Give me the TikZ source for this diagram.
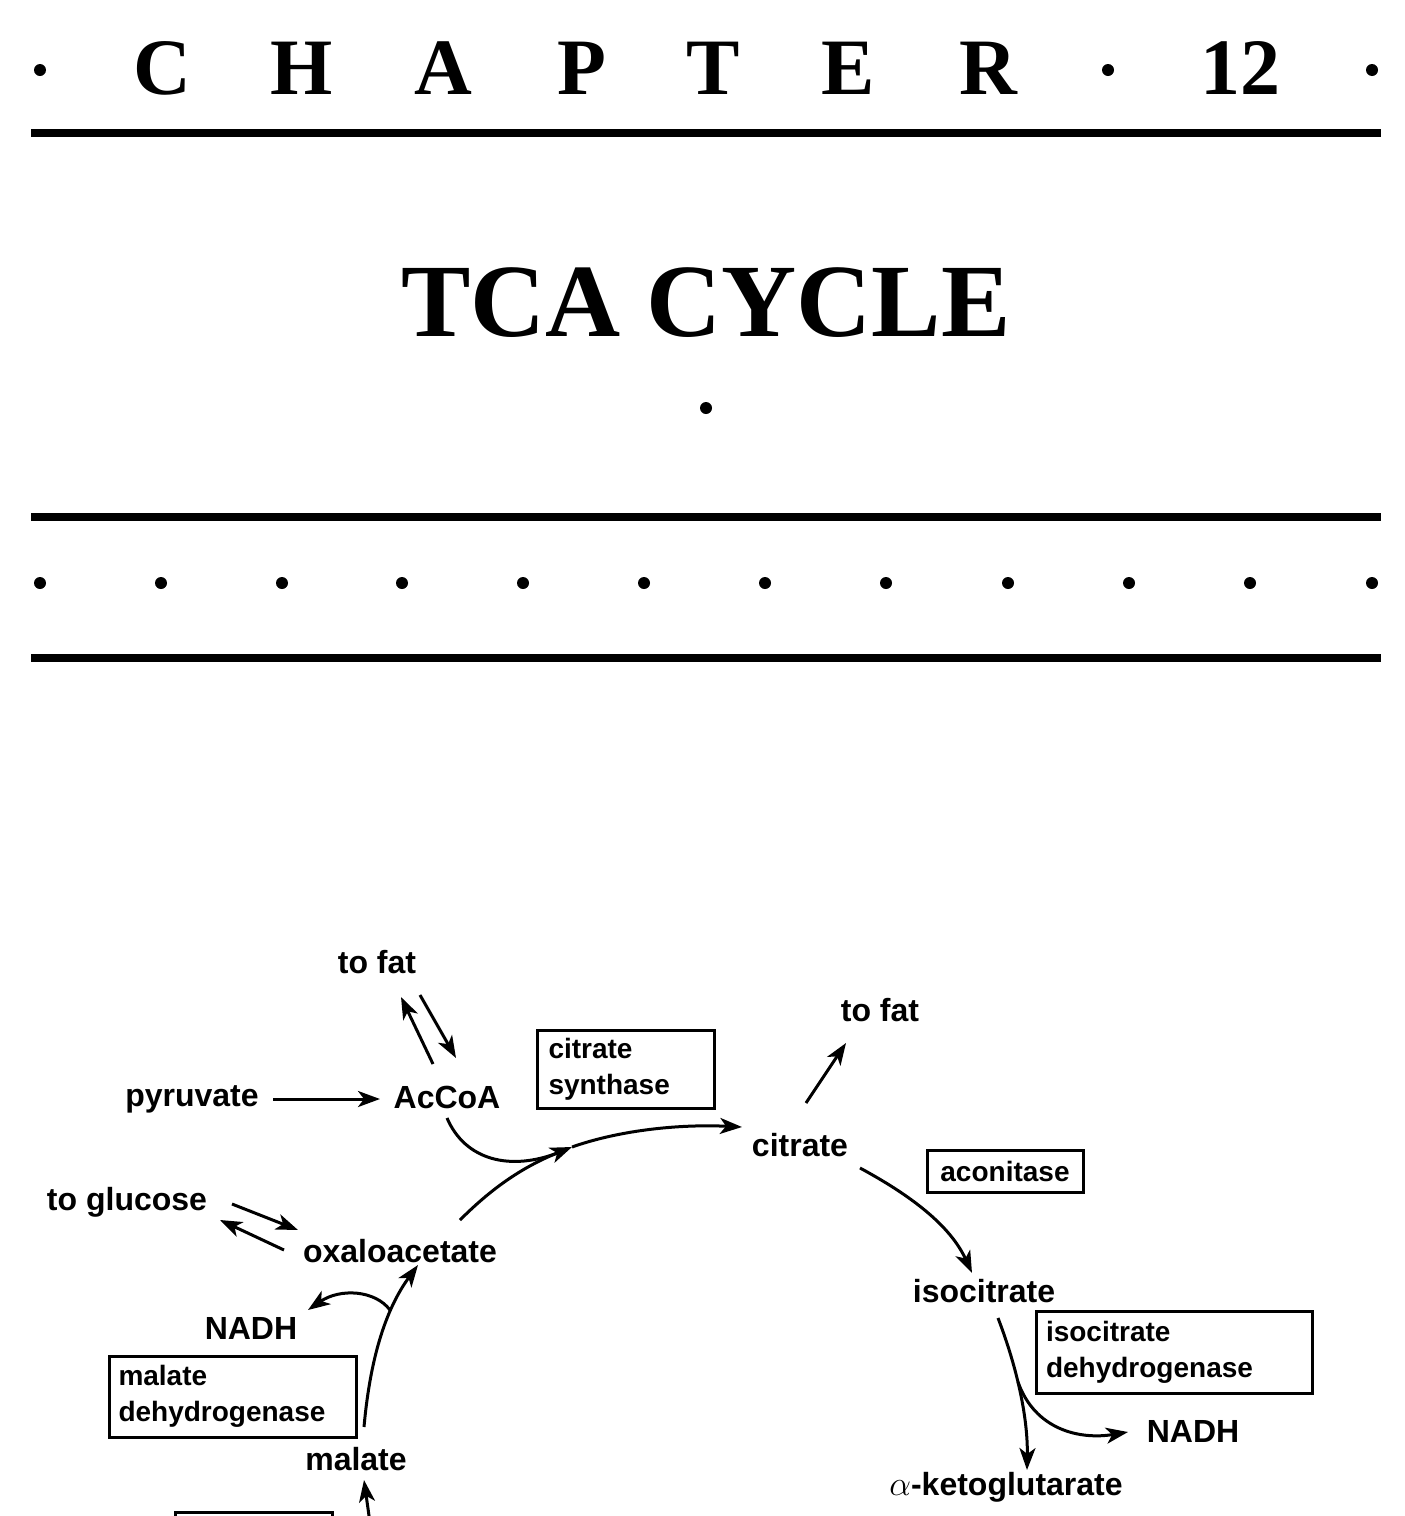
\documentclass[tikz,border=0pt]{standalone}
\usepackage{fontspec}
\setmainfont{Liberation Serif}
\newfontfamily\dsans{Liberation Sans}
\usetikzlibrary{arrows.meta}
\begin{document}
\begin{tikzpicture}[x=0.5pt,y=-0.5pt,
  hd/.style={font=\fontsize{40}{40}\selectfont\bfseries},
  lab/.style={font=\dsans\bfseries\fontsize{16}{19}\selectfont, inner sep=0pt},
  enz/.style={draw, line width=1.5pt, align=left, font=\dsans\bfseries\fontsize{14}{18}\selectfont, inner sep=0pt},
  rule/.style={line width=4pt},
  dotc/.style={fill, circle, inner sep=0pt, minimum size=6pt},
  arr/.style={line width=1.5pt, -{Stealth[length=11pt,width=8pt,inset=3pt]}},
  ln/.style={line width=1.5pt}]
\useasboundingbox (0,0) rectangle (1404,1516);
% header
\foreach \x/\t [count=\i] in {162/C,302/H,443/A,582/P,713/T,848/E,988/R,1240/12}
  \node[hd] (h\i) at (\x,68) {\t};
\foreach \x [count=\i] in {40,1108,1372} \node[dotc] (hd\i) at (\x,70) {};
\draw[rule] (31,133) -- (1381,133);
\node[font=\fontsize{52}{52}\selectfont\bfseries] (title) at (706,303) {TCA CYCLE};
\node[dotc] (tdot) at (706,408) {};
\draw[rule] (31,517) -- (1381,517);
\foreach \x [count=\i] in {40,161,282,402,523,644,765,886,1008,1129,1250,1372}
  \node[dotc] (rd\i) at (\x,583) {};
\draw[rule] (31,658) -- (1381,658);
% diagram labels
\node[lab] (tofat1) at (377,962) {to fat};
\node[lab] (pyr) at (192,1099) {pyruvate};
\node[lab] (accoa) at (447,1097) {AcCoA};
\node[enz, minimum width=177pt*0.5, minimum height=78pt*0.5, text width=77pt] (cs) at (625.5,1069) {citrate\\synthase};
\node[lab] (cit) at (800,1145) {citrate};
\node[lab] (tofat2) at (880,1010) {to fat};
\node[enz, minimum width=156pt*0.5, minimum height=42pt*0.5] (acon) at (1005,1171) {aconitase};
\node[lab] (toglu) at (127,1202) {to glucose};
\node[lab] (oaa) at (400,1251) {oxaloacetate};
\node[lab] (iso) at (984,1291) {isocitrate};
\node[enz, minimum width=276pt*0.5, minimum height=82pt*0.5, text width=128pt] (idh) at (1174,1352) {isocitrate\\dehydrogenase};
\node[lab] (nadh2) at (1193,1431) {NADH};
\node[lab] (akg) at (1006,1487) {$\alpha$-ketoglutarate};
\node[lab] (nadh1) at (251,1328) {NADH};
\node[enz, minimum width=247pt*0.5, minimum height=81pt*0.5, text width=114pt] (mdh) at (232.5,1396.5) {malate\\dehydrogenase};
\node[lab] (mal) at (356,1459) {malate};
\node[draw, line width=1.5pt, minimum width=157pt*0.5, minimum height=60pt*0.5, inner sep=0pt] (fum) at (253.5,1542) {};
% coordinates
\coordinate (a1) at (273,1099); \coordinate (a2) at (380,1099);
\coordinate (f1) at (433,1064); \coordinate (f2) at (401,997);
\coordinate (f3) at (420,995); \coordinate (f4) at (456,1058);
\coordinate (o1) at (460,1220); \coordinate (j1) at (572,1147); \coordinate (c1) at (742,1127);
\coordinate (ac1) at (447,1118);
\coordinate (t1) at (806,1103); \coordinate (t2) at (846,1043);
\coordinate (i1) at (860,1168); \coordinate (i2) at (972,1273);
\coordinate (k1) at (998,1318); \coordinate (k2) at (1027,1470);
\coordinate (n1) at (1018,1382); \coordinate (n2) at (1128,1432);
\coordinate (g1) at (232,1204); \coordinate (g2) at (298,1230);
\coordinate (g3) at (284,1250); \coordinate (g4) at (220,1220);
\coordinate (m1) at (364,1427); \coordinate (m2) at (418,1265);
\coordinate (m3) at (390,1310); \coordinate (m4) at (308,1310);
\coordinate (b1) at (371,1530); \coordinate (b2) at (364,1480);
% arrows
\draw[arr] (a1) -- (a2);
\draw[arr] (f1) -- (f2);
\draw[arr] (f3) -- (f4);
\draw[arr] (o1) .. controls (490,1190) and (520,1168) .. (j1);
\draw[arr] (j1) .. controls (620,1130) and (680,1124) .. (c1);
\draw[ln] (ac1) .. controls (465,1160) and (510,1172) .. (560,1152);
\draw[arr] (t1) -- (t2);
\draw[arr] (i1) .. controls (910,1195) and (950,1225) .. (i2);
\draw[arr] (k1) .. controls (1018,1370) and (1028,1420) .. (k2);
\draw[arr] (n1) .. controls (1035,1430) and (1080,1440) .. (n2);
\draw[arr] (g1) -- (g2);
\draw[arr] (g3) -- (g4);
\draw[arr] (m1) .. controls (370,1360) and (385,1310) .. (m2);
\draw[arr] (m3) .. controls (375,1290) and (340,1288) .. (m4);
\draw[arr] (b1) -- (b2);
\end{tikzpicture}
\end{document}
